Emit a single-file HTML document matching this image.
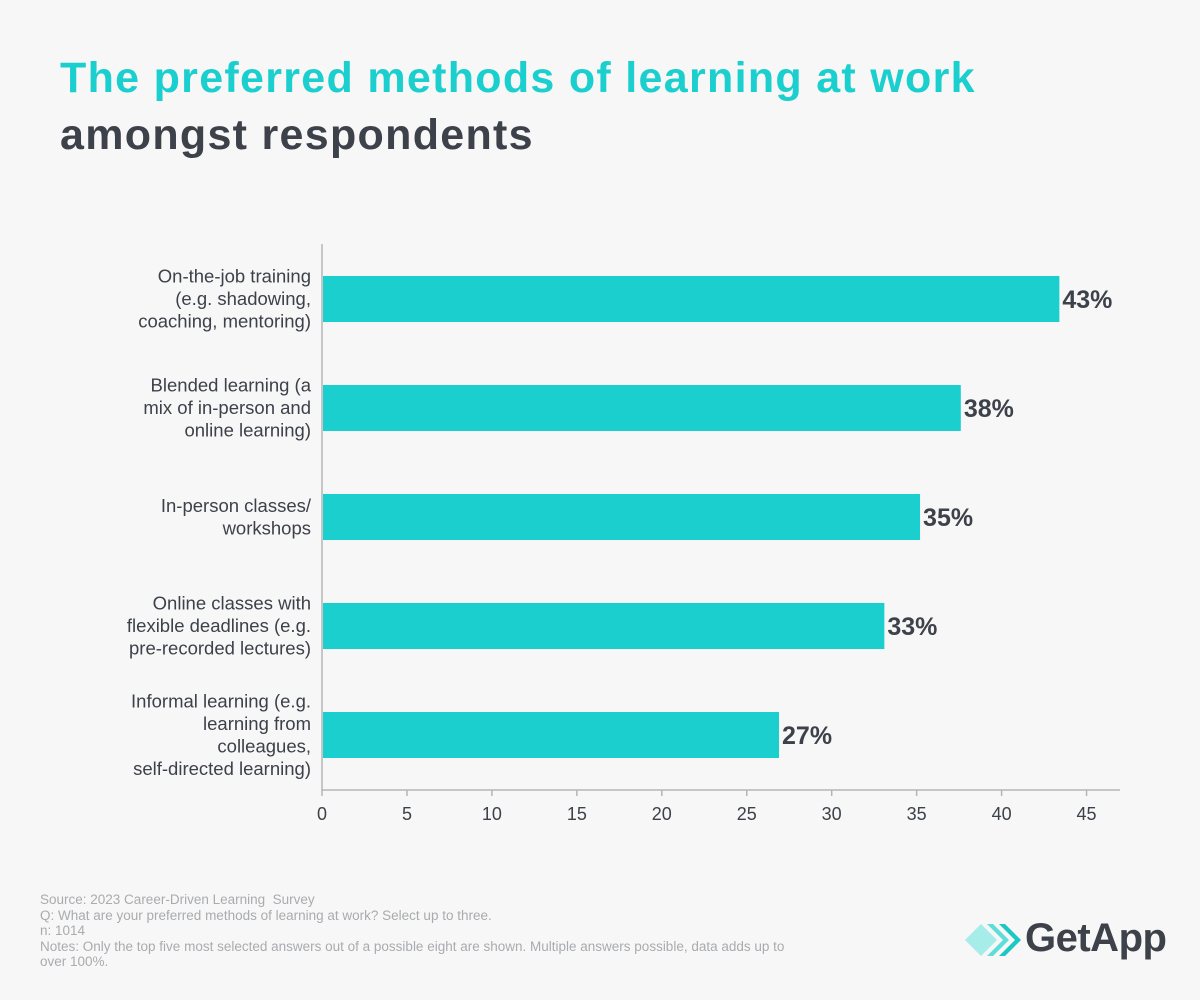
<!DOCTYPE html>
<html><head><meta charset="utf-8"><style>
body{margin:0;background:#f7f7f7;font-family:"Liberation Sans",sans-serif;}
#wrap{position:relative;width:1200px;height:1000px;overflow:hidden;background:#f7f7f7;}
.t{position:absolute;left:60px;font-weight:bold;font-size:43px;letter-spacing:1.3px;}
.foot{position:absolute;left:40px;top:892px;font-size:13.5px;color:#a9abae;line-height:15.5px;}
</style></head><body>
<div id="wrap">
<div class="t" style="top:54px;color:#1ccfcf">The preferred methods of learning at work</div>
<div class="t" style="top:111px;color:#3d4149">amongst respondents</div>
<svg id="chart" width="1200" height="860" style="position:absolute;left:0;top:0"></svg>
<div class="foot">Source: 2023 Career-Driven Learning&nbsp; Survey<br>Q: What are your preferred methods of learning at work? Select up to three.<br>n: 1014<br>Notes: Only the top five most selected answers out of a possible eight are shown. Multiple answers possible, data adds up to<br>over 100%.</div>
<div style="position:absolute;left:963px;top:918px;width:210px;height:46px;">
<svg width="70" height="46" style="position:absolute;left:0;top:0">
<polygon points="2,22 18,6 34,22 18,38" fill="#a6ece9"/>
<polygon points="24,6 30,6 46,22 30,38 24,38 40,22" fill="#5fddd8"/>
<polygon points="36,6 42,6 58,22 42,38 36,38 52,22" fill="#1cc8c4"/>
</svg>
<div style="position:absolute;left:62px;top:-2px;font-size:40px;font-weight:bold;color:#3d4149;letter-spacing:-0.5px">GetApp</div>
</div>
</div>
<script>
const categories=[["On-the-job training","(e.g. shadowing,","coaching, mentoring)"],["Blended learning (a","mix of in-person and","online learning)"],["In-person classes/","workshops"],["Online classes with","flexible deadlines (e.g.","pre-recorded lectures)"],["Informal learning (e.g.","learning from","colleagues,","self-directed learning)"]];
const values=[43.4,37.6,35.2,33.1,26.9];
const valueLabels=["43%","38%","35%","33%","27%"];
const ticks=[0,5,10,15,20,25,30,35,40,45];
const NS="http://www.w3.org/2000/svg";
const svg=document.getElementById('chart');
const x0=322,pu=16.99,yTop=244,rowH=109,barH=46,axisY=790;
const xs=v=>x0+v*pu;
const yc=i=>yTop+55+i*rowH;
function mk(t,a){const e=document.createElementNS(NS,t);for(const k in a)e.setAttribute(k,a[k]);svg.appendChild(e);return e;}
let e;
e=mk('line',{x1:x0,y1:yTop,x2:x0,y2:axisY,stroke:'#b5b5b5','stroke-width':1.5});


e=mk('line',{x1:x0,y1:axisY,x2:1120,y2:axisY,stroke:'#b5b5b5','stroke-width':1.5});


ticks.forEach(t=>{
 e=mk('line',{x1:xs(t),y1:axisY,x2:xs(t),y2:axisY+6,stroke:'#b5b5b5','stroke-width':1.5});
 
 
 e=mk('text',{x:xs(t),y:axisY+30,'text-anchor':'middle','font-size':18,fill:'#3d4149','font-family':'Liberation Sans, sans-serif'});
 e.textContent=t;
 
 
});
values.forEach((v,i)=>{
 const c=yc(i);
 e=mk('rect',{x:x0+1,y:c-barH/2,width:xs(v)-x0-1,height:barH,fill:'#1ccfcf'});
 
 
 e=mk('text',{x:xs(v)+3,y:c+9,'font-size':25,'font-weight':'bold',fill:'#3d4149','font-family':'Liberation Sans, sans-serif'});
 e.textContent=valueLabels[i];
 
 
 const lines=categories[i],lh=22.5,start=c-(lines.length-1)*lh/2+6;
 lines.forEach((l,j)=>{
  e=mk('text',{x:311,y:start+j*lh,'text-anchor':'end','font-size':18.5,fill:'#3d4149','font-family':'Liberation Sans, sans-serif'});
  e.textContent=l;
  
  
 });
});
</script>
</body></html>
